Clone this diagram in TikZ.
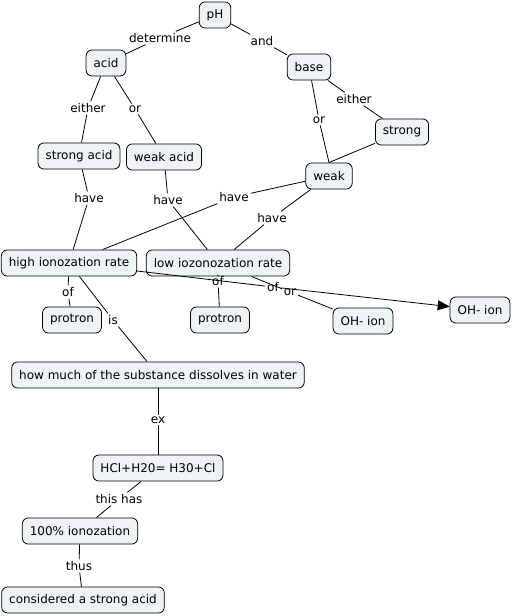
\documentclass[tikz,border=0pt]{standalone}
\usepackage{fontspec}
\setmainfont{DejaVu Sans}
\usetikzlibrary{arrows.meta}
\definecolor{cmapfill}{RGB}{238,243,245}

\begin{document}
\begin{tikzpicture}[x=0.75pt,y=-0.75pt,line width=0.6pt,
    concept/.style={draw,rounded corners=4.5pt,fill=cmapfill,minimum height=19.6pt,inner xsep=5.6pt,font=\fontsize{9}{11}\selectfont},
    link/.style={inner sep=1.2pt,font=\fontsize{9}{11}\selectfont}]
  \useasboundingbox (0,0) rectangle (513,616);
  % concepts
  \node[concept] (ph) at (215,15) {pH};
  \node[concept] (acid) at (106,63) {acid};
  \node[concept] (base) at (309,67) {base};
  \node[concept] (strong) at (402,132) {strong};
  \node[concept] (strongacid) at (79,156) {strong acid};
  \node[concept] (weakacid) at (164,157) {weak acid};
  \node[concept] (weak) at (329,176) {weak};
  \node[concept] (high) at (69,263) {high ionozation rate};
  \node[concept] (low) at (218,263) {low iozonozation rate};
  \node[concept] (protronA) at (72,320) {protron};
  \node[concept] (protronB) at (220,320) {protron};
  \node[concept] (ohA) at (363,321) {OH- ion};
  \node[concept] (ohB) at (480,310) {OH- ion};
  \node[concept] (howmuch) at (158,375) {how much of the substance dissolves in water};
  \node[concept] (hcl) at (158,468) {HCl+H20= H30+Cl};
  \node[concept] (full) at (80,531) {100\% ionozation};
  \node[concept] (considered) at (83,600) {considered a strong acid};
  % linking phrases
  \node[link] (determine) at (160,38) {determine};
  \node[link] (and) at (262,41) {and};
  \node[link] (eitherA) at (88,108) {either};
  \node[link] (orA) at (135,109) {or};
  \node[link] (eitherB) at (354,99) {either};
  \node[link] (orB) at (319,120) {or};
  \node[link] (haveA) at (89,198) {have};
  \node[link] (haveB) at (168,200) {have};
  \node[link] (haveC) at (234,197) {have};
  \node[link] (haveD) at (272,218) {have};
  \node[link] (ofA) at (68,292) {of};
  \node[link] (is) at (113,320) {is};
  \node[link] (ofB) at (218,281) {of};
  \node[link] (ofC) at (273,287) {of};
  \node[link] (orC) at (290,292) {or};
  \node[link] (ex) at (158,420) {ex};
  \node[link] (thishas) at (119,499) {this has};
  \node[link] (thus) at (79,566) {thus};
  % connectors
  \draw (ph) -- (determine) -- (acid);
  \draw (ph) -- (and) -- (base);
  \draw (acid) -- (eitherA) -- (strongacid);
  \draw (acid) -- (orA) -- (weakacid);
  \draw (base) -- (eitherB) -- (strong);
  \draw (base) -- (orB) -- (weak.north);
  \draw (strong) -- (weak.north);
  \draw (strongacid) -- (haveA) -- (high);
  \draw (weakacid) -- (haveB) -- (low);
  \draw (weak) -- (haveC) -- (high);
  \draw (weak) -- (haveD) -- (low);
  \draw (high) -- (ofA) -- (protronA);
  \draw (high) -- (is) -- (howmuch);
  \draw[-{Triangle[length=9pt,width=7.5pt]}] (high) -- (ofC) -- (ohB);
  \draw (low) -- (ofB) -- (protronB);
  \draw (low) -- (orC) -- (ohA);
  \draw (howmuch) -- (ex) -- (hcl);
  \draw (hcl) -- (thishas) -- (full);
  \draw (full) -- (thus) -- (considered);
\end{tikzpicture}
\end{document}
